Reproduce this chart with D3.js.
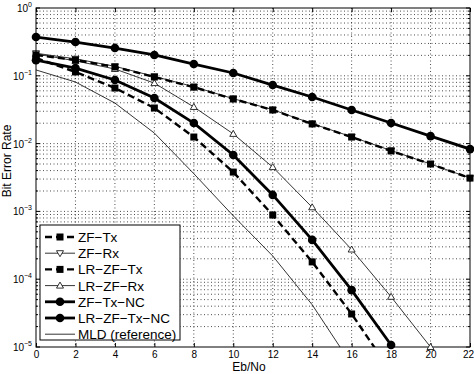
<!DOCTYPE html>
<html>
<head>
<meta charset="utf-8">
<script src="https://cdn.jsdelivr.net/npm/d3@7"></script>
<style>
  body { margin: 0; background: #fff; }
  text { font-family: "Liberation Sans", Arial, sans-serif; fill: #000; }
</style>
</head>
<body>
<div id="chart"></div>
<script>
// Eb/No points (dB)
var snr = [0, 2, 4, 6, 8, 10, 12, 14, 16, 18, 20, 22];

// BER values
var zfTx     = [0.203, 0.171, 0.135, 0.096, 0.068, 0.0455, 0.0313, 0.0195, 0.0125, 0.0078, 0.005, 0.0031];
var zfRx     = [0.215, 0.178, 0.138, 0.098, 0.069, 0.046, 0.0316, 0.0197, 0.0126, 0.0079, 0.005, 0.0031];
var lrZfTx   = [0.183, 0.114, 0.066, 0.0335, 0.0125, 0.0038, 8.85e-4, 1.8e-4, 3.07e-5, 4.3e-6];
var lrZfRx   = [0.21, 0.166, 0.126, 0.078, 0.0347, 0.0139, 0.0045, 0.00115, 2.74e-4, 5.5e-5, 1e-5];
var zfTxNc   = [0.373, 0.315, 0.257, 0.203, 0.149, 0.11, 0.073, 0.0487, 0.0313, 0.0201, 0.0129, 0.0083];
var lrZfTxNc = [0.17, 0.13, 0.0867, 0.047, 0.0201, 0.0068, 0.00175, 3.8e-4, 6.9e-5, 1.07e-5];
var mld      = [0.122, 0.081, 0.0396, 0.0143, 0.0036, 8.6e-4, 2.2e-4, 4.2e-5, 5.5e-6];

var xTicks = [0, 2, 4, 6, 8, 10, 12, 14, 16, 18, 20, 22];
var yExps = [0, -1, -2, -3, -4, -5];

var series = [
  {name: "ZF\u2212Tx",          values: zfTx,     dash: "7,4", width: 2.4, marker: "square"},
  {name: "ZF\u2212Rx",          values: zfRx,     dash: null,  width: 0.8, marker: "down"},
  {name: "LR\u2212ZF\u2212Tx",      values: lrZfTx,   dash: "7,4", width: 2.4, marker: "square"},
  {name: "LR\u2212ZF\u2212Rx",      values: lrZfRx,   dash: null,  width: 0.8, marker: "up"},
  {name: "ZF\u2212Tx\u2212NC",      values: zfTxNc,   dash: null,  width: 2.8, marker: "circle"},
  {name: "LR\u2212ZF\u2212Tx\u2212NC",  values: lrZfTxNc, dash: null,  width: 2.8, marker: "circle"},
  {name: "MLD (reference)",     values: mld,      dash: null,  width: 0.8, marker: null}
];

var W = 474, H = 374;
var pL = 36, pR = 470, pT = 8, pB = 347;

var svg = d3.select("#chart").append("svg").attr("width", W).attr("height", H);

var x = d3.scaleLinear().domain([0, 22]).range([pL, pR]);
var y = d3.scaleLog().domain([1e-5, 1]).range([pB, pT]);

// Grid: vertical at x ticks, horizontal at every decade and minor log step
var grid = svg.append("g").attr("stroke", "#000").attr("stroke-width", 0.7).attr("stroke-dasharray", "1,2.5");
xTicks.slice(1, -1).forEach(function (t) {
  grid.append("line").attr("x1", x(t)).attr("x2", x(t)).attr("y1", pT).attr("y2", pB);
});
var yTickVals = [];
for (var e = -5; e <= 0; e++) {
  for (var m = 1; m < 10; m++) {
    if (e === 0 && m > 1) break;
    yTickVals.push(m * Math.pow(10, e));
  }
}
yTickVals.forEach(function (v) {
  if (v <= 1e-5 || v >= 1) return;
  grid.append("line").attr("x1", pL).attr("x2", pR).attr("y1", y(v)).attr("y2", y(v));
});

// x axis (ticks inside)
var gx = svg.append("g").attr("transform", "translate(0," + pB + ")")
  .call(d3.axisBottom(x).tickValues(xTicks).tickSize(-4).tickPadding(4).tickFormat(d3.format("d")));
gx.select(".domain").remove();
gx.selectAll("text").style("font-size", "10px").style("font-family", "Liberation Sans, Arial, sans-serif");
gx.selectAll("text").filter(function (d) { return d === 22; }).attr("dx", -2);

var gxTop = svg.append("g").attr("transform", "translate(0," + pT + ")")
  .call(d3.axisTop(x).tickValues(xTicks).tickSize(-4).tickFormat(""));
gxTop.select(".domain").remove();

// y ticks inside, both sides
yTickVals.forEach(function (v) {
  var major = Math.abs(Math.log10(v) - Math.round(Math.log10(v))) < 1e-9;
  var len = major ? 4 : 2;
  svg.append("line").attr("x1", pL).attr("x2", pL + len).attr("y1", y(v)).attr("y2", y(v)).attr("stroke", "#000");
  svg.append("line").attr("x1", pR).attr("x2", pR - len).attr("y1", y(v)).attr("y2", y(v)).attr("stroke", "#000");
});

// y tick labels 10^n
yExps.forEach(function (p) {
  var t = svg.append("text").attr("x", 32).attr("y", y(Math.pow(10, p)) + 4)
    .attr("text-anchor", "end").style("font-size", "10px");
  t.append("tspan").text("10");
  t.append("tspan").attr("dy", -5).style("font-size", "7px").text(p === 0 ? "0" : "\u2212" + (-p));
});

svg.append("rect").attr("x", pL).attr("y", pT).attr("width", pR - pL).attr("height", pB - pT)
  .attr("fill", "none").attr("stroke", "#000").attr("stroke-width", 1);

// Axis titles
svg.append("text").attr("x", 249).attr("y", 371).attr("text-anchor", "middle").style("font-size", "12px").text("Eb/No");
svg.append("text").attr("transform", "translate(11,161) rotate(-90)").attr("text-anchor", "middle")
  .style("font-size", "12px").text("Bit Error Rate");

// Clip
svg.append("clipPath").attr("id", "clip").append("rect")
  .attr("x", pL).attr("y", pT).attr("width", pR - pL).attr("height", pB - pT);

function drawMarker(g, type, cx, cy) {
  if (type === "square") {
    g.append("rect").attr("x", cx - 3.5).attr("y", cy - 3.5).attr("width", 7).attr("height", 7).attr("fill", "#000");
  } else if (type === "circle") {
    g.append("circle").attr("cx", cx).attr("cy", cy).attr("r", 4.3).attr("fill", "#000");
  } else if (type === "down") {
    g.append("path").attr("d", "M" + (cx - 3.5) + "," + (cy - 2.5) + "L" + (cx + 3.5) + "," + (cy - 2.5) + "L" + cx + "," + (cy + 3.5) + "Z")
      .attr("fill", "#fff").attr("stroke", "#000").attr("stroke-width", 0.8);
  } else if (type === "up") {
    g.append("path").attr("d", "M" + (cx - 3.5) + "," + (cy + 2.5) + "L" + (cx + 3.5) + "," + (cy + 2.5) + "L" + cx + "," + (cy - 3.5) + "Z")
      .attr("fill", "#fff").attr("stroke", "#000").attr("stroke-width", 0.8);
  }
}

var line = d3.line().x(function (d) { return x(d[0]); }).y(function (d) { return y(d[1]); });

// lines first, then markers (open triangles under the filled ones)
var plot = svg.append("g");
series.forEach(function (s) {
  var pts = s.values.map(function (v, i) { return [snr[i], v]; });
  plot.append("path").attr("d", line(pts)).attr("clip-path", "url(#clip)")
    .attr("fill", "none").attr("stroke", "#000").attr("stroke-width", s.width)
    .attr("stroke-dasharray", s.dash);
});
var markerOrder = ["down", "up", "square", "circle"];
markerOrder.forEach(function (mk) {
  series.filter(function (s) { return s.marker === mk; }).forEach(function (s) {
    s.values.forEach(function (v, i) {
      if (v >= 0.95e-5) drawMarker(plot, mk, x(snr[i]), y(v));
    });
  });
});

// Legend
var lg = svg.append("g");
lg.append("rect").attr("x", 40).attr("y", 225).attr("width", 140).attr("height", 115)
  .attr("fill", "#fff").attr("stroke", "#000").attr("stroke-width", 1);
series.forEach(function (s, i) {
  var ly = 237 + i * 16.2;
  lg.append("line").attr("x1", 45).attr("x2", 75).attr("y1", ly).attr("y2", ly)
    .attr("stroke", "#000").attr("stroke-width", s.width).attr("stroke-dasharray", s.dash);
  if (s.marker) drawMarker(lg, s.marker, 60, ly);
  lg.append("text").attr("x", 78).attr("y", ly + 5).style("font-size", "13.5px").text(s.name);
});
</script>
</body>
</html>
